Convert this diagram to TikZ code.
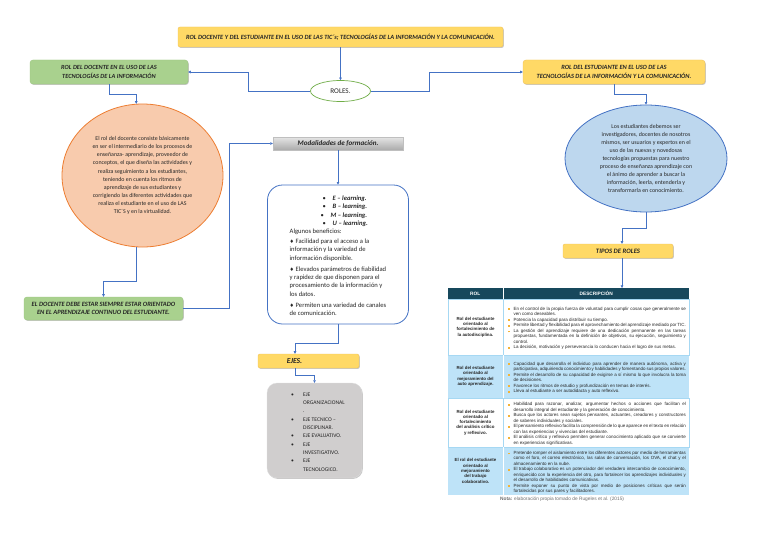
\documentclass[tikz,border=0pt]{standalone}
\usepackage{fontspec}
\setmainfont{Carlito}
\newfontfamily\tabfont{Liberation Sans}
\newfontfamily\symf{DejaVu Sans}
\usetikzlibrary{arrows.meta,shapes.geometric,shadows,calc}
\definecolor{linec}{HTML}{4472C4}
\definecolor{yel}{HTML}{FFD966}
\definecolor{yelb}{HTML}{F2C35A}
\definecolor{grn}{HTML}{A9D18E}
\definecolor{grnb}{HTML}{9CC77F}
\definecolor{rolesb}{HTML}{70AD47}
\definecolor{orf}{HTML}{F8CBAD}
\definecolor{ord}{HTML}{ED7D31}
\definecolor{blf}{HTML}{BDD7EE}
\definecolor{bld}{HTML}{4472C4}
\definecolor{hdr}{HTML}{17485C}
\definecolor{rowb}{HTML}{BEE3F8}
\definecolor{rowl}{HTML}{A6D8F3}
\definecolor{bul}{HTML}{F5B335}
\definecolor{grayb}{HTML}{D0CECE}
\definecolor{notec}{HTML}{6F6F6F}
\definecolor{txt}{HTML}{262626}
\newcommand\titem[1]{\par\noindent\hangindent=5.5pt\hangafter=1\makebox[5.5pt][l]{\textcolor{bul}{\rule[0.3pt]{1.8pt}{1.8pt}}}#1\par}
\newcommand\descsetup{\hyphenpenalty=10000\tolerance=9999\emergencystretch=4pt\parskip=0.7pt\relax}
\newcommand\dia{{\symf\fontsize{5}{5}\selectfont ♦}}
\begin{document}
\begin{tikzpicture}[x=1pt,y=-1pt,
  conn/.style={draw=linec, line width=0.55pt, -{Triangle[length=2.6pt,width=2.6pt]}},
  shad/.style={drop shadow={shadow xshift=0.8pt, shadow yshift=-0.9pt, opacity=0.22, fill=black}},
  ybox/.style={draw=yelb, line width=0.4pt, fill=yel, rounded corners=2pt, inner sep=0pt, align=center, text=txt, font=\fontsize{6.4}{8.2}\selectfont\bfseries\itshape, shad},
  gbox/.style={draw=grnb, line width=0.4pt, fill=grn, rounded corners=3pt, inner sep=0pt, align=center, text=txt, font=\fontsize{6.3}{8.8}\selectfont\bfseries\itshape, shad},
  oval/.style={ellipse, line width=0.8pt, inner sep=0pt, align=center, text=txt},
  rolt/.style={font=\tabfont\bfseries\fontsize{4.4}{5.3}\selectfont, align=center, text=txt, inner sep=0pt},
  desc/.style={font=\tabfont\fontsize{4.5}{5.15}\selectfont, text width=178pt, align=justify, text=txt, inner sep=0pt},
  hcell/.style={fill=hdr, inner sep=0pt, text=white, font=\tabfont\bfseries\fontsize{4.8}{5}\selectfont}
]
\useasboundingbox (0,0) rectangle (768,543);
\fill[white] (0,0) rectangle (768,543);

% ---- top ----
\node[ybox, minimum width=325pt, minimum height=20pt] (title) at (340.5,37)
  {ROL DOCENTE Y DEL ESTUDIANTE EN EL USO DE LAS TIC´s; TECNOLOGÍAS DE LA INFORMACIÓN Y LA COMUNICACIÓN.};
\node[ellipse, draw=rolesb, line width=0.7pt, fill=white, minimum width=60pt, minimum height=21pt, inner sep=0pt, text=txt, font=\fontsize{7.2}{8}\selectfont] (roles) at (340.5,91) {ROLES.};
\node[gbox, minimum width=158pt, minimum height=24pt] (rolDoc) at (109,72)
  {ROL DEL DOCENTE EN EL USO DE LAS\\TECNOLOGÍAS DE LA INFORMACIÓN};
\node[ybox, rounded corners=3pt, minimum width=182pt, minimum height=24pt] (rolEst) at (614,72)
  {ROL DEL ESTUDIANTE EN EL USO DE LAS\\TECNOLOGÍAS DE LA INFORMACIÓN Y LA COMUNICACIÓN.};

% ---- left column ----
\node[oval, draw=ord, fill=orf, minimum width=161pt, minimum height=143pt, font=\fontsize{5.9}{8.1}\selectfont] (ovalDoc) at (142.5,175.5)
  {El rol del docente consiste básicamente\\en ser el intermediario de los procesos de\\enseñanza- aprendizaje, proveedor de\\conceptos, el que diseña las actividades y\\realiza seguimiento a los estudiantes,\\teniendo en cuenta los ritmos de\\aprendizaje de sus estudiantes y\\corrigiendo las diferentes actividades que\\realiza el estudiante en el uso de LAS\\TIC´S y en la virtualidad.};
\node[gbox, minimum width=159pt, minimum height=23pt, font=\fontsize{6.5}{8.6}\selectfont\bfseries\itshape] (docBot) at (103.5,308.5)
  {EL DOCENTE DEBE ESTAR SIEMPRE ESTAR ORIENTADO\\EN EL APRENDIZAJE CONTINUO DEL ESTUDIANTE.};

% ---- centre column ----
\node[draw=black!25, line width=0.3pt, top color=black!10, bottom color=black!33, minimum width=130pt, minimum height=13pt, inner sep=0pt, text=txt, font=\fontsize{7.1}{8}\selectfont\bfseries\itshape, shad] (modal) at (338,143.5) {Modalidades de formación.};
\node[draw=bld, line width=0.8pt, fill=white, rounded corners=15pt, minimum width=141pt, minimum height=139pt, inner sep=0pt] (modBox) at (338,254.5) {};
\node[anchor=north west, inner sep=0pt, align=left, text=txt, font=\fontsize{6.6}{8.4}\selectfont] (modTxt) at (289.5,195.5)
  {\hspace*{33pt}\makebox[10pt][l]{\textbullet}\textbf{\textit{E – learning.}}\\
   \hspace*{33pt}\makebox[10pt][l]{\textbullet}\textbf{\textit{B – learning.}}\\
   \hspace*{31pt}\makebox[10pt][l]{\textbullet}\textbf{\textit{M – learning.}}\\
   \hspace*{33pt}\makebox[10pt][l]{\textbullet}\textbf{\textit{U – learning.}}\\
   Algunos beneficios:\\[1pt]
   \dia\ Facilidad para el acceso a la\\
   información y la variedad de\\
   información disponible.\\[2.5pt]
   \dia\ Elevados parámetros de fiabilidad\\
   y rapidez de que disponen para el\\
   procesamiento de la información y\\
   los datos.\\[2.5pt]
   \dia\ Permiten una variedad de canales\\
   de comunicación.};
\node[ybox, minimum width=101pt, minimum height=14pt, font=\fontsize{7.6}{8}\selectfont\bfseries\itshape] (ejes) at (308.5,361) {\hspace*{-28pt}EJES.};
\node[fill=grayb, draw=black!12, line width=0.3pt, rounded corners=10pt, minimum width=95pt, minimum height=95pt, inner sep=0pt, shad] (ejeBox) at (314.5,430.5) {};
\node[anchor=north west, inner sep=0pt, align=left, text=txt, font=\fontsize{5.6}{8.33}\selectfont] (ejeTxt) at (291,392.5)
  {\makebox[12pt][l]{\textbullet}EJE\\
   \hspace*{12pt}ORGANIZACIONAL\\
   \hspace*{12pt}.\\
   \makebox[12pt][l]{\textbullet}EJE TECNICO –\\
   \hspace*{12pt}DISCIPLINAR.\\
   \makebox[12pt][l]{\textbullet}EJE EVALUATIVO.\\
   \makebox[12pt][l]{\textbullet}EJE\\
   \hspace*{12pt}INVESTIGATIVO.\\
   \makebox[12pt][l]{\textbullet}EJE\\
   \hspace*{12pt}TECNOLOGICO.};

% ---- right column ----
\node[oval, draw=bld, fill=blf, minimum width=162pt, minimum height=107pt, font=\fontsize{5.9}{7.9}\selectfont] (ovalEst) at (646,158.5)
  {Los estudiantes debemos ser\\investigadores, docentes de nosotros\\mismos, ser usuarios y expertos en el\\uso de las nuevas y novedosas\\tecnologías propuestas para nuestro\\proceso de enseñanza aprendizaje con\\el ánimo de aprender a buscar la\\información, leerla, entenderla y\\transformarla en conocimiento.};
\node[ybox, minimum width=110pt, minimum height=14pt, font=\fontsize{6.7}{8}\selectfont\bfseries\itshape] (tipos) at (618,251) {TIPOS DE ROLES};

% ---- table ----
\fill[white] (448,299) rectangle (689,355);
\fill[rowb] (448,355) rectangle (689,398);
\fill[white] (448,398) rectangle (689,447);
\fill[rowb] (448,447) rectangle (689,495);
\draw[rowl, line width=0.4pt] (448,299) rectangle (689,355);
\draw[rowl, line width=0.4pt] (448,398) rectangle (689,447);
\draw[rowl, line width=0.4pt] (503,299) -- (503,355) (503,398) -- (503,447);
\draw[white, line width=0.8pt] (503,355) -- (503,398) (503,447) -- (503,495);
\node[hcell, minimum width=54.5pt, minimum height=11pt] (hRol) at (475.25,293.5) {ROL};
\node[hcell, minimum width=185.5pt, minimum height=11pt] (hDesc) at (596.25,293.5) {DESCRIPCIÓN};
\coordinate (tabtop) at (622,288);

\node[rolt] (r1) at (475.5,327) {Rol del estudiante\\orientado al\\fortalecimiento de\\la autodisciplina.};
\node[rolt] (r2) at (475.5,376.5) {Rol del estudiante\\orientado al\\mejoramiento del\\auto aprendizaje.};
\node[rolt] (r3) at (475.5,422.5) {Rol del estudiante\\orientado al\\fortalecimiento\\del análisis crítico\\y reflexivo.};
\node[rolt] (r4) at (475.5,471) {El rol del estudiante\\orientado al\\mejoramiento\\del trabajo\\colaborativo.};

\node[desc] (d1) at (597,327) {\descsetup
\titem{En el control de la propia fuerza de voluntad para cumplir cosas que generalmente se ven como deseables.}%
\titem{Potencia la capacidad para distribuir su tiempo.}%
\titem{Permite libertad y flexibilidad para el aprovechamiento del aprendizaje mediado por TIC.}%
\titem{La gestión del aprendizaje requiere de una dedicación permanente en las tareas propuestas, fundamentada en la definición de objetivos, su ejecución, seguimiento y control.}%
\titem{La decisión, motivación y perseverancia lo conducen hacia el logro de sus metas.}};
\node[desc] (d2) at (597,376.5) {\descsetup
\titem{Capacidad que desarrolla el individuo para aprender de manera autónoma, activa y participativa, adquiriendo conocimiento y habilidades y fomentando sus propios valores.}%
\titem{Permite el desarrollo de su capacidad de exigirse a sí mismo lo que involucra la toma de decisiones.}%
\titem{Favorece los ritmos de estudio y profundización en temas de interés.}%
\titem{Lleva al estudiante a ser autodidacta y auto reflexivo.}};
\node[desc] (d3) at (597,422.5) {\descsetup
\titem{Habilidad para razonar, analizar, argumentar hechos o acciones que facilitan el desarrollo integral del estudiante y la generación de conocimiento.}%
\titem{Busca que los actores sean sujetos pensantes, actuantes, creadores y constructores de saberes individuales y sociales.}%
\titem{El pensamiento reflexivo facilita la comprensión de lo que aparece en el texto en relación con las experiencias y vivencias del estudiante.}%
\titem{El análisis crítico y reflexivo permiten generar conocimiento aplicado que se convierte en experiencias significativas.}};
\node[desc] (d4) at (597,471) {\descsetup
\titem{Pretende romper el aislamiento entre los diferentes actores por medio de herramientas como el foro, el correo electrónico, las salas de conversación, los OVA, el chat y el almacenamiento en la nube.}%
\titem{El trabajo colaborativo es un potenciador del verdadero intercambio de conocimiento, enriquecido con la experiencia del otro, para fortalecer los aprendizajes individuales y el desarrollo de habilidades comunicativas.}%
\titem{Permite exponer su punto de vista por medio de posiciones críticas que serán fortalecidas por sus pares y facilitadores.}};
\node[anchor=west, inner sep=0pt, text=notec, font=\tabfont\fontsize{4.8}{5}\selectfont] (nota) at (500,499)
  {\textbf{Nota:} elaboración propia tomado de Rugeles et al. (2015)};

% ---- connectors ----
\draw[conn] (title.south) -- (roles.north);
\draw[conn] (roles.west) -- ++(-62,0) |- (rolDoc.east);
\draw[conn] (roles.east) -- ++(58,0) |- (rolEst.west);
\draw[conn] (rolDoc.south) -- ++(0,10) -| (ovalDoc.95);
\draw[conn] (ovalDoc.265) -- ++(0,34) -| (docBot.north);
\draw[conn] (docBot.east) -- ++(46,0) |- (modal.west);
\draw[conn] (modal.south) -- (modBox.north);
\draw[conn] (modBox.south) -- ++(0,19) -| ($(ejes.north)+(-13.5,0)$);
\draw[conn] ($(ejes.south)+(-13.5,0)$) -- ++(0,7) -| (ejeBox.north);
\draw[conn] (rolEst.south) -- ++(0,10) -| (ovalEst.north);
\draw[conn] (ovalEst.south) -- ++(0,16) -| ($(tipos.north)+(4,0)$);
\draw[conn] ($(tipos.south)+(4,0)$) -- (tabtop);
\end{tikzpicture}
\end{document}
